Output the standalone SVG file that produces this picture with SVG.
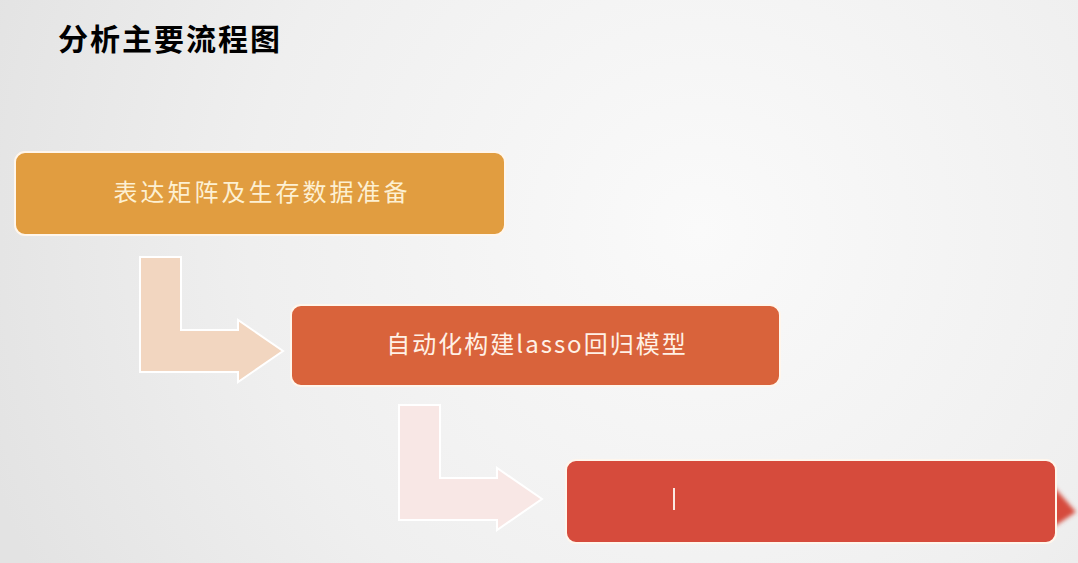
<svg xmlns="http://www.w3.org/2000/svg" width="1078" height="563" viewBox="0 0 1078 563">
<defs>
<radialGradient id="bg" cx="700" cy="230" r="750" gradientUnits="userSpaceOnUse">
<stop offset="0" stop-color="#FAFAFA"/>
<stop offset="0.6" stop-color="#EFEFEF"/>
<stop offset="1" stop-color="#E3E3E3"/>
</radialGradient>
<filter id="blur" x="-50%" y="-50%" width="200%" height="200%">
<feGaussianBlur stdDeviation="2"/>
</filter>
<style>
.box{stroke:#FFF6EC;stroke-width:2}
.lbl{font-family:"Noto Sans CJK SC","Noto Sans",sans-serif;font-size:24px;text-anchor:middle}
.arr{stroke:#FFFFFF;stroke-width:2}
</style>
</defs>
<rect x="0" y="0" width="1078" height="563" fill="url(#bg)"/>
<text x="58" y="50" font-family="'Noto Sans CJK SC','Noto Sans',sans-serif" font-size="30" font-weight="700" letter-spacing="2" fill="#000000">分析主要流程图</text>
<g id="connectors">
<polygon class="arr" fill="#F2D6C0" points="140,257 181,257 181,330 238,330 238,320 283,351 238,382 238,372 140,372"/>
<polygon class="arr" fill="#F8E7E5" points="399,405 440,405 440,478 497,478 497,468 542,499 497,530 497,520 399,520"/>
</g>
<g id="node1">
<rect class="box" x="15" y="152" width="490" height="83" rx="10" fill="#E19D40"/>
<text class="lbl" x="262" y="201" fill="#FDF0D2" letter-spacing="3">表达矩阵及生存数据准备</text>
</g>
<g id="node2">
<rect class="box" x="291" y="305" width="489" height="81" rx="10" fill="#D9633B"/>
<text class="lbl" x="537" y="353" fill="#FFF1E6" letter-spacing="2">自动化构建lasso回归模型</text>
</g>
<g id="node3">
<polygon points="1046,478 1076,512 1046,532" fill="#D64B3C" filter="url(#blur)"/>
<rect class="box" x="566" y="460" width="490" height="83" rx="10" fill="#D64B3C"/>
<rect x="673" y="488" width="2" height="22" fill="#FBE9E4"/>
</g>
</svg>
